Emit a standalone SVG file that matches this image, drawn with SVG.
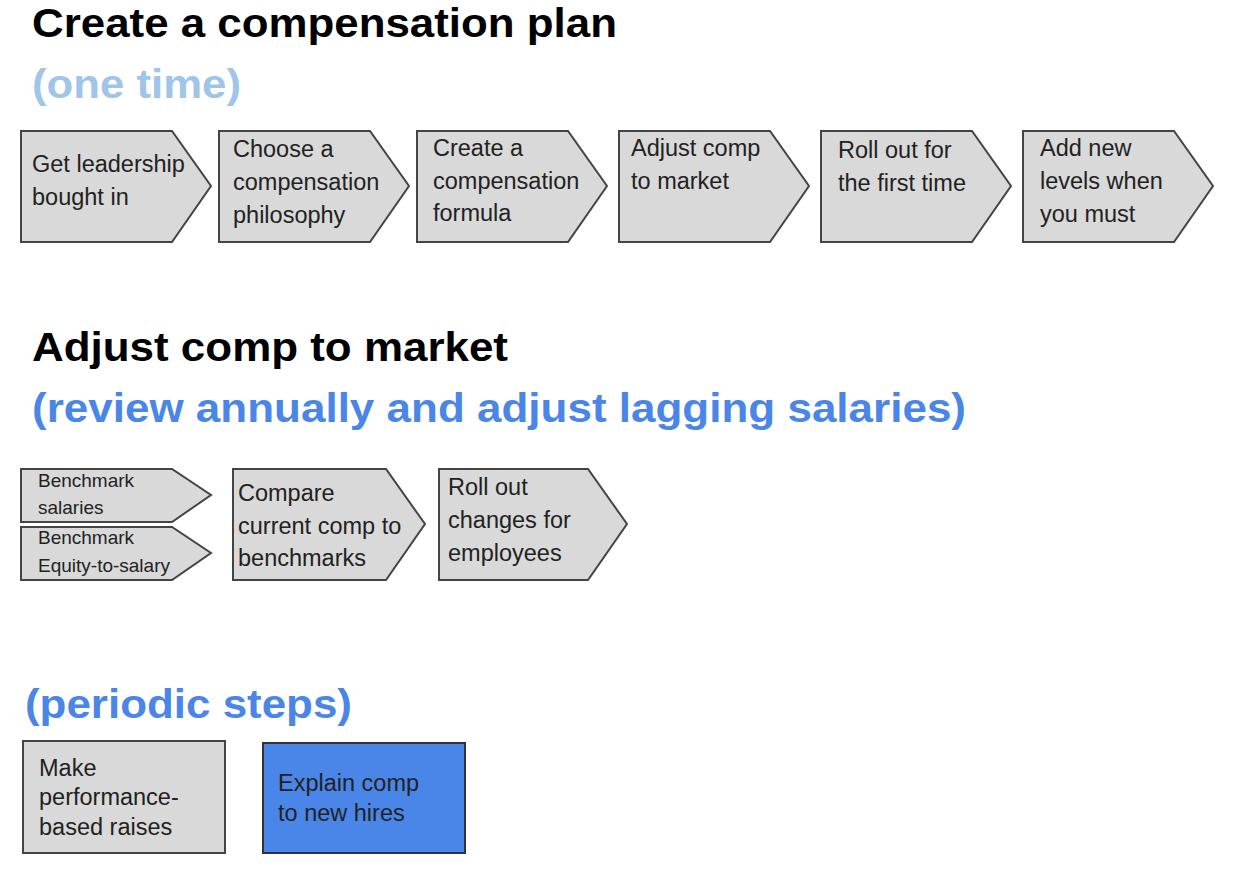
<svg xmlns="http://www.w3.org/2000/svg" width="1236" height="874" viewBox="0 0 1236 874">
<style>
.h{font-family:"Liberation Sans",Arial,sans-serif;font-weight:bold;font-size:40px}
.t{font-family:"Liberation Sans",Arial,sans-serif;font-size:23.5px;fill:#222}
.s{font-family:"Liberation Sans",Arial,sans-serif;font-size:19px;fill:#222}
.b{fill:#d9d9d9;stroke:#444;stroke-width:2}
</style>
<rect width="1236" height="874" fill="#fff"/>
<text class="h" x="32" y="37" textLength="585" lengthAdjust="spacingAndGlyphs">Create a compensation plan</text>
<text class="h" x="32" y="98" fill="#9fc5e8" textLength="209" lengthAdjust="spacingAndGlyphs">(one time)</text>
<text class="h" x="32" y="361" textLength="476" lengthAdjust="spacingAndGlyphs">Adjust comp to market</text>
<text class="h" x="32" y="422" fill="#4a86e8" textLength="934" lengthAdjust="spacingAndGlyphs">(review annually and adjust lagging salaries)</text>
<text class="h" x="25" y="718" fill="#4a86e8" textLength="327" lengthAdjust="spacingAndGlyphs">(periodic steps)</text>
<g id="n1"><path class="b" d="M21 131H172L211 186L172 242H21Z"/><text class="t" x="32" y="172">Get leadership</text><text class="t" x="32" y="205">bought in</text></g>
<g id="n2"><path class="b" d="M219 131H370L409 186L370 242H219Z"/><text class="t" x="233" y="157">Choose a</text><text class="t" x="233" y="190">compensation</text><text class="t" x="233" y="223">philosophy</text></g>
<g id="n3"><path class="b" d="M417 131H568L607 186L568 242H417Z"/><text class="t" x="433" y="156">Create a</text><text class="t" x="433" y="189">compensation</text><text class="t" x="433" y="221">formula</text></g>
<g id="n4"><path class="b" d="M619 131H770L809 186L770 242H619Z"/><text class="t" x="631" y="156">Adjust comp</text><text class="t" x="631" y="189">to market</text></g>
<g id="n5"><path class="b" d="M821 131H972L1011 186L972 242H821Z"/><text class="t" x="838" y="158">Roll out for</text><text class="t" x="838" y="191">the first time</text></g>
<g id="n6"><path class="b" d="M1023 131H1174L1213 186L1174 242H1023Z"/><text class="t" x="1040" y="156">Add new</text><text class="t" x="1040" y="189">levels when</text><text class="t" x="1040" y="222">you must</text></g>
<g id="n7"><path class="b" d="M21 469H172L211 495L172 522H21Z"/><text class="s" x="38" y="487">Benchmark</text><text class="s" x="38" y="514">salaries</text></g>
<g id="n8"><path class="b" d="M21 527H172L211 553L172 580H21Z"/><text class="s" x="38" y="544">Benchmark</text><text class="s" x="38" y="572">Equity-to-salary</text></g>
<g id="n9"><path class="b" d="M233 469H386L425 524L386 580H233Z"/><text class="t" x="238" y="501">Compare</text><text class="t" x="238" y="534">current comp to</text><text class="t" x="238" y="566">benchmarks</text></g>
<g id="n10"><path class="b" d="M439 469H588L627 524L588 580H439Z"/><text class="t" x="448" y="495">Roll out</text><text class="t" x="448" y="528">changes for</text><text class="t" x="448" y="561">employees</text></g>
<g id="n11"><rect class="b" x="23" y="741" width="202" height="112"/><text class="t" x="39" y="776">Make</text><text class="t" x="39" y="805">performance-</text><text class="t" x="39" y="835">based raises</text></g>
<g id="n12"><rect x="263" y="743" width="202" height="110" fill="#4a86e8" stroke="#333" stroke-width="2"/><text class="t" x="278" y="791">Explain comp</text><text class="t" x="278" y="821">to new hires</text></g>
<g id="connectors"/>
</svg>
